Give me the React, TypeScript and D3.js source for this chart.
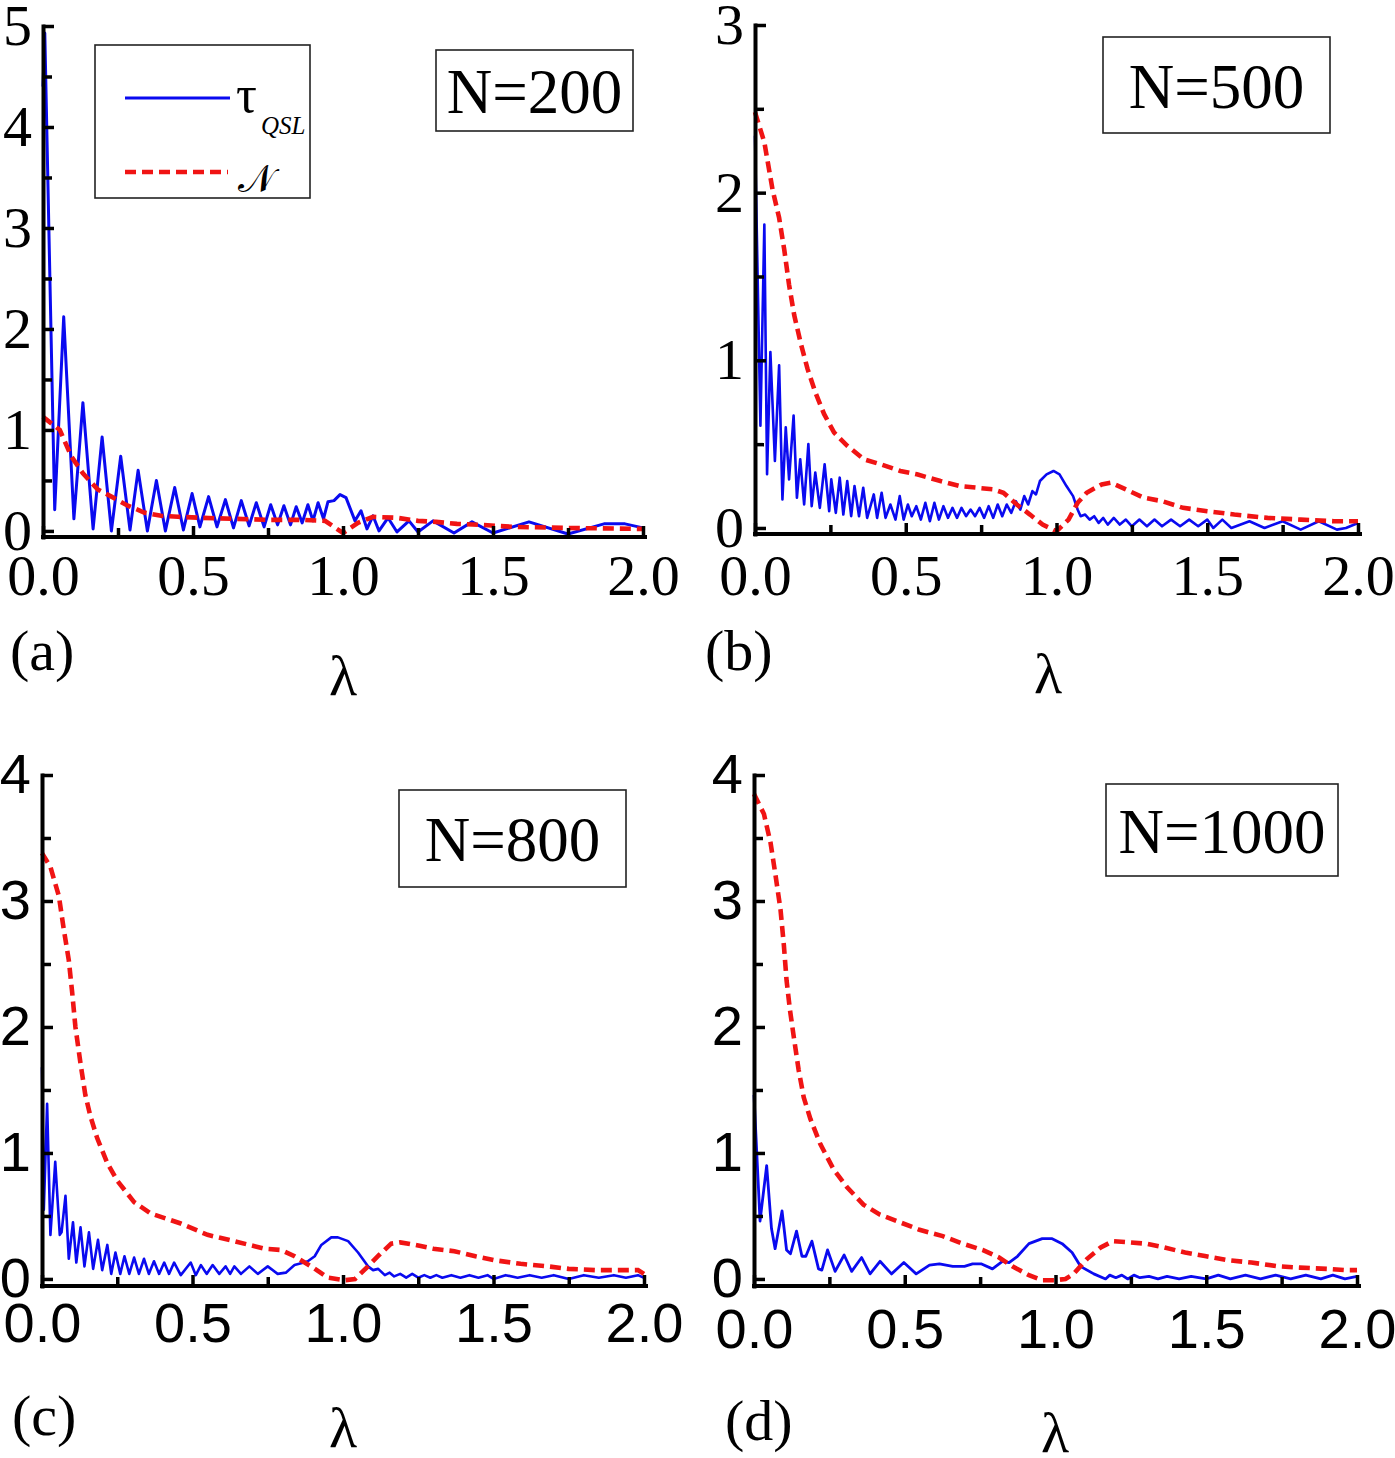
import React, { useEffect, useRef } from 'react';
import * as d3 from 'd3';

// [lambda, value] pairs
const tau200: [number, number][] = [
  [0, 4.4], [0.006, 4.93], [0.039, 0.21], [0.069, 2.12], [0.103, 0.12], [0.133, 1.27], [0.167, 0.02],
  [0.197, 0.93], [0.228, 0.0], [0.259, 0.74], [0.29, 0.01], [0.317, 0.6], [0.348, 0.0], [0.378, 0.5],
  [0.408, 0.0], [0.439, 0.43], [0.468, 0.01], [0.497, 0.37], [0.523, 0.04], [0.552, 0.34], [0.58, 0.04],
  [0.608, 0.31], [0.635, 0.03], [0.661, 0.3], [0.687, 0.05], [0.711, 0.28], [0.737, 0.04], [0.759, 0.26],
  [0.782, 0.06], [0.803, 0.25], [0.825, 0.06], [0.844, 0.24], [0.864, 0.08], [0.883, 0.26], [0.9, 0.1],
  [0.917, 0.28], [0.935, 0.12], [0.95, 0.29], [0.97, 0.3], [0.99, 0.36], [1.01, 0.33], [1.04, 0.1],
  [1.06, 0.2], [1.08, 0.02], [1.1, 0.15], [1.12, 0.0], [1.15, 0.13], [1.18, -0.01], [1.22, 0.1],
  [1.25, -0.01], [1.3, 0.1], [1.37, -0.02], [1.43, 0.09], [1.5, -0.02], [1.62, 0.09], [1.75, -0.03],
  [1.87, 0.07], [1.94, 0.07], [2.0, 0.03],
];
const neg200: [number, number][] = [
  [0, 1.13], [0.056, 1.0], [0.094, 0.74], [0.133, 0.57], [0.183, 0.41], [0.228, 0.34], [0.283, 0.25],
  [0.339, 0.18], [0.394, 0.15], [0.45, 0.14], [0.528, 0.13], [0.639, 0.12], [0.75, 0.11], [0.861, 0.11],
  [0.94, 0.1], [0.97, 0.04], [1.0, -0.02], [1.05, 0.08], [1.1, 0.14], [1.18, 0.13], [1.25, 0.1],
  [1.31, 0.09], [1.38, 0.07], [1.46, 0.06], [1.57, 0.04], [1.74, 0.03], [2.0, 0.02],
];

const tau500: [number, number][] = [
  [0, 2.34], [0.018, 0.61], [0.031, 1.81], [0.04, 0.32], [0.051, 1.05], [0.066, 0.4], [0.08, 0.97],
  [0.091, 0.17], [0.102, 0.6], [0.113, 0.29], [0.128, 0.67], [0.139, 0.18], [0.15, 0.41], [0.163, 0.14],
  [0.177, 0.5], [0.188, 0.13], [0.2, 0.33], [0.215, 0.12], [0.231, 0.38], [0.246, 0.1], [0.253, 0.29],
  [0.268, 0.09], [0.281, 0.3], [0.293, 0.08], [0.306, 0.28], [0.319, 0.07], [0.33, 0.25], [0.345, 0.07],
  [0.359, 0.24], [0.372, 0.06], [0.394, 0.2], [0.405, 0.06], [0.42, 0.21], [0.433, 0.06], [0.449, 0.14],
  [0.466, 0.05], [0.48, 0.19], [0.493, 0.05], [0.507, 0.14], [0.52, 0.07], [0.535, 0.13], [0.55, 0.05],
  [0.565, 0.15], [0.58, 0.04], [0.595, 0.15], [0.61, 0.05], [0.625, 0.13], [0.64, 0.06], [0.655, 0.12],
  [0.67, 0.06], [0.685, 0.12], [0.7, 0.07], [0.715, 0.11], [0.73, 0.07], [0.745, 0.12], [0.76, 0.06],
  [0.775, 0.13], [0.79, 0.06], [0.805, 0.14], [0.82, 0.07], [0.835, 0.14], [0.85, 0.09], [0.865, 0.16],
  [0.88, 0.11], [0.893, 0.19], [0.906, 0.14], [0.92, 0.22], [0.932, 0.2], [0.945, 0.28], [0.967, 0.32],
  [0.99, 0.34], [1.01, 0.32], [1.033, 0.25], [1.055, 0.19], [1.07, 0.11], [1.08, 0.07], [1.095, 0.08],
  [1.11, 0.05], [1.125, 0.07], [1.14, 0.03], [1.155, 0.06], [1.17, 0.02], [1.19, 0.06], [1.21, 0.02],
  [1.23, 0.05], [1.25, 0.01], [1.275, 0.05], [1.3, 0.01], [1.325, 0.05], [1.35, 0.01], [1.38, 0.05],
  [1.41, 0.01], [1.44, 0.05], [1.47, 0.01], [1.5, 0.05], [1.52, 0.0], [1.55, 0.05], [1.58, 0.0],
  [1.64, 0.04], [1.69, 0.0], [1.75, 0.04], [1.81, -0.01], [1.87, 0.04], [1.93, -0.01], [1.96, 0.0],
  [2.0, 0.03],
];
const neg500: [number, number][] = [
  [0, 2.48], [0.031, 2.3], [0.058, 2.02], [0.08, 1.85], [0.097, 1.66], [0.113, 1.45], [0.13, 1.27],
  [0.152, 1.1], [0.174, 0.95], [0.2, 0.81], [0.229, 0.68], [0.262, 0.57], [0.306, 0.49], [0.361, 0.41],
  [0.416, 0.38], [0.482, 0.34], [0.537, 0.32], [0.615, 0.28], [0.68, 0.25], [0.736, 0.24], [0.79, 0.23],
  [0.824, 0.21], [0.868, 0.14], [0.912, 0.08], [0.954, 0.02], [1.0, -0.02], [1.04, 0.05], [1.07, 0.15],
  [1.1, 0.21], [1.15, 0.26], [1.18, 0.27], [1.23, 0.23], [1.29, 0.18], [1.35, 0.16], [1.42, 0.12],
  [1.5, 0.1], [1.59, 0.08], [1.7, 0.06], [1.81, 0.05], [1.92, 0.04], [2.0, 0.04],
];

const tau800: [number, number][] = [
  [0, 1.68], [0.006, 0.55], [0.017, 1.39], [0.028, 0.35], [0.044, 0.93], [0.059, 0.35], [0.065, 0.37],
  [0.078, 0.66], [0.089, 0.16], [0.103, 0.45], [0.114, 0.13], [0.128, 0.41], [0.141, 0.1], [0.156, 0.37],
  [0.17, 0.08], [0.186, 0.31], [0.2, 0.07], [0.217, 0.27], [0.23, 0.04], [0.244, 0.21], [0.26, 0.04],
  [0.274, 0.18], [0.29, 0.04], [0.306, 0.17], [0.322, 0.04], [0.339, 0.16], [0.355, 0.04], [0.372, 0.14],
  [0.389, 0.04], [0.406, 0.13], [0.422, 0.04], [0.439, 0.13], [0.461, 0.03], [0.494, 0.13], [0.511, 0.03],
  [0.528, 0.11], [0.547, 0.04], [0.567, 0.11], [0.589, 0.04], [0.61, 0.1], [0.625, 0.04], [0.639, 0.1],
  [0.661, 0.04], [0.689, 0.1], [0.717, 0.04], [0.75, 0.1], [0.783, 0.04], [0.81, 0.05], [0.839, 0.11],
  [0.87, 0.13], [0.883, 0.14], [0.906, 0.18], [0.928, 0.27], [0.961, 0.33], [0.983, 0.33], [1.017, 0.3],
  [1.05, 0.21], [1.083, 0.1], [1.1, 0.07], [1.117, 0.08], [1.139, 0.03], [1.155, 0.05], [1.17, 0.02],
  [1.19, 0.04], [1.21, 0.01], [1.23, 0.04], [1.25, 0.01], [1.27, 0.03], [1.29, 0.01], [1.31, 0.03],
  [1.33, 0.01], [1.36, 0.03], [1.39, 0.01], [1.42, 0.03], [1.45, 0.01], [1.48, 0.03], [1.5, 0.0],
  [1.54, 0.03], [1.58, 0.01], [1.62, 0.03], [1.66, 0.01], [1.7, 0.03], [1.75, 0.0], [1.8, 0.03],
  [1.85, 0.01], [1.9, 0.03], [1.94, 0.01], [1.98, 0.03], [2.0, 0.01],
];
const neg800: [number, number][] = [
  [0, 3.38], [0.028, 3.27], [0.056, 3.04], [0.072, 2.78], [0.089, 2.53], [0.1, 2.28], [0.111, 2.0],
  [0.128, 1.71], [0.144, 1.46], [0.161, 1.29], [0.183, 1.12], [0.217, 0.92], [0.25, 0.78], [0.306, 0.61],
  [0.361, 0.52], [0.461, 0.44], [0.55, 0.35], [0.639, 0.3], [0.739, 0.24], [0.794, 0.23], [0.839, 0.18],
  [0.894, 0.1], [0.95, 0.01], [1.006, -0.01], [1.04, 0.0], [1.083, 0.1], [1.12, 0.19], [1.16, 0.28],
  [1.19, 0.29], [1.24, 0.27], [1.3, 0.24], [1.37, 0.22], [1.44, 0.18], [1.5, 0.15], [1.59, 0.12],
  [1.68, 0.1], [1.75, 0.08], [1.84, 0.07], [1.92, 0.07], [1.98, 0.07], [2.0, 0.04],
];

const tau1000: [number, number][] = [
  [0, 1.46], [0.02, 0.46], [0.042, 0.9], [0.058, 0.4], [0.07, 0.24], [0.093, 0.54], [0.108, 0.23],
  [0.121, 0.2], [0.141, 0.38], [0.159, 0.18], [0.172, 0.18], [0.192, 0.3], [0.214, 0.08], [0.225, 0.07],
  [0.244, 0.23], [0.269, 0.06], [0.299, 0.19], [0.324, 0.06], [0.357, 0.17], [0.385, 0.04], [0.418, 0.14],
  [0.456, 0.04], [0.497, 0.13], [0.538, 0.04], [0.582, 0.11], [0.615, 0.12], [0.659, 0.1], [0.698, 0.1],
  [0.725, 0.12], [0.753, 0.12], [0.791, 0.08], [0.824, 0.14], [0.846, 0.13], [0.874, 0.18], [0.912, 0.28],
  [0.956, 0.32], [0.989, 0.32], [1.022, 0.28], [1.055, 0.21], [1.083, 0.1], [1.127, 0.04], [1.166, 0.0],
  [1.18, 0.03], [1.2, 0.01], [1.22, 0.03], [1.24, 0.0], [1.26, 0.03], [1.28, 0.01], [1.31, 0.02],
  [1.34, 0.0], [1.37, 0.02], [1.41, 0.0], [1.45, 0.02], [1.5, 0.0], [1.54, 0.03], [1.58, 0.0],
  [1.63, 0.03], [1.68, 0.0], [1.73, 0.03], [1.78, 0.0], [1.83, 0.03], [1.88, 0.0], [1.92, 0.03],
  [1.96, 0.0], [2.0, 0.02],
];
const neg1000: [number, number][] = [
  [0, 3.85], [0.033, 3.69], [0.055, 3.46], [0.071, 3.21], [0.088, 2.93], [0.099, 2.65], [0.108, 2.37],
  [0.119, 2.14], [0.132, 1.92], [0.148, 1.66], [0.165, 1.44], [0.187, 1.27], [0.22, 1.07], [0.264, 0.87],
  [0.308, 0.73], [0.363, 0.59], [0.418, 0.51], [0.484, 0.45], [0.549, 0.39], [0.626, 0.34], [0.692, 0.28],
  [0.758, 0.23], [0.813, 0.17], [0.857, 0.1], [0.912, 0.03], [0.956, -0.01], [1.0, -0.01], [1.033, 0.0],
  [1.06, 0.04], [1.105, 0.16], [1.15, 0.25], [1.19, 0.3], [1.25, 0.29], [1.3, 0.28], [1.36, 0.25],
  [1.43, 0.21], [1.5, 0.18], [1.57, 0.15], [1.65, 0.13], [1.74, 0.1], [1.81, 0.09], [1.9, 0.08],
  [1.96, 0.07], [2.0, 0.07],
];

const xMajor = [0, 0.5, 1.0, 1.5, 2.0];
const xMinor = [0.25, 0.75, 1.25, 1.75];
const sizeLabels = ['N=200', 'N=500', 'N=800', 'N=1000'];
const panelTags = ['(a)', '(b)', '(c)', '(d)'];

const SERIF = '"Liberation Serif", "Times New Roman", serif';
const SANS = '"Liberation Sans", Arial, sans-serif';

const panels = [
  {
    tau: tau200, neg: neg200, yMax: 5, yMin: -0.06, font: SERIF,
    x: [43, 643], y: [537, 26], xEnd: 645, xPad: 17, blueW: 3,
    box: [436, 50, 197, 81], tag: [10, 670], lam: [343, 695],
  },
  {
    tau: tau500, neg: neg500, yMax: 3, yMin: -0.036, font: SERIF,
    x: [755, 1358], y: [534, 25], xEnd: 1360, xPad: 20, blueW: 2.6,
    box: [1103, 37, 227, 96], tag: [705, 670], lam: [1048, 693],
  },
  {
    tau: tau800, neg: neg800, yMax: 4, yMin: -0.056, font: SANS,
    x: [42, 644], y: [1286, 775], xEnd: 646, xPad: 16, blueW: 2.6,
    box: [399, 790, 227, 97], tag: [12, 1435], lam: [343, 1447],
  },
  {
    tau: tau1000, neg: neg1000, yMax: 4, yMin: -0.056, font: SANS,
    x: [754, 1357], y: [1286, 775], xEnd: 1359, xPad: 22, blueW: 2.8,
    box: [1106, 784, 232, 92], tag: [725, 1440], lam: [1055, 1452],
  },
];

const App: React.FC = () => {
  const svgRef = useRef<SVGSVGElement>(null);

  useEffect(() => {
    if (!svgRef.current) return;
    const svg = d3.select(svgRef.current);
    svg.selectAll('*').remove();

    panels.forEach((p, i) => {
      const g = svg.append('g');
      const x = d3.scaleLinear().domain([0, 2]).range(p.x);
      const y = d3.scaleLinear().domain([p.yMin, p.yMax]).range(p.y);
      const y0 = p.y[0];

      const line = d3.line<[number, number]>().x(d => x(d[0])).y(d => y(d[1]));

      // curves
      g.append('path')
        .attr('d', line(p.tau))
        .attr('fill', 'none')
        .attr('stroke', '#0a0af0')
        .attr('stroke-width', p.blueW)
        .attr('stroke-linejoin', 'round');
      g.append('path')
        .attr('d', line(p.neg))
        .attr('fill', 'none')
        .attr('stroke', '#f01414')
        .attr('stroke-width', 4.6)
        .attr('stroke-dasharray', '11,6');

      // axes
      const yMajorVals = d3.range(0, p.yMax + 0.01, 1);
      const yMinorVals = d3.range(0.5, p.yMax, 1);

      const xAxis = g.append('g').attr('transform', `translate(0,${y0})`)
        .call(d3.axisBottom(x).tickValues(xMajor).tickSize(-11).tickSizeOuter(0).tickPadding(p.xPad)
          .tickFormat(d3.format('.1f')));
      g.append('g').attr('transform', `translate(0,${y0})`)
        .call(d3.axisBottom(x).tickValues(xMinor).tickSize(-9).tickSizeOuter(0).tickFormat(() => ''))
        .select('.domain').remove();
      const yAxis = g.append('g').attr('transform', `translate(${p.x[0]},0)`)
        .call(d3.axisLeft(y).tickValues(yMajorVals).tickSize(-11).tickSizeOuter(0).tickPadding(11)
          .tickFormat(d3.format('d')));
      g.append('g').attr('transform', `translate(${p.x[0]},0)`)
        .call(d3.axisLeft(y).tickValues(yMinorVals).tickSize(-9).tickSizeOuter(0).tickFormat(() => ''))
        .select('.domain').remove();

      [xAxis, yAxis].forEach(a => {
        a.attr('font-family', p.font).attr('font-size', p.font === SERIF ? 58 : 56);
        a.selectAll('text').attr('fill', '#000');
      });
      xAxis.select('.domain').attr('d', `M${p.x[0]},0H${p.xEnd}`);
      g.selectAll('.domain').attr('stroke', '#000').attr('stroke-width', 4).attr('stroke-linecap', 'square');
      g.selectAll('.tick line').attr('stroke', '#000').attr('stroke-width', 3.5);

      // N label box
      const [bx, by, bw, bh] = p.box;
      g.append('rect').attr('x', bx).attr('y', by).attr('width', bw).attr('height', bh)
        .attr('fill', 'white').attr('stroke', '#222').attr('stroke-width', 1.6);
      g.append('text')
        .attr('x', bx + bw / 2).attr('y', by + bh / 2).attr('dy', '0.36em')
        .attr('text-anchor', 'middle')
        .attr('font-family', SERIF).attr('font-size', 63)
        .text(sizeLabels[i]);

      g.append('text').attr('x', p.tag[0]).attr('y', p.tag[1])
        .attr('font-family', SERIF).attr('font-size', 58).text(panelTags[i]);
      g.append('text').attr('x', p.lam[0]).attr('y', p.lam[1]).attr('text-anchor', 'middle')
        .attr('font-family', SERIF).attr('font-size', 58).text('λ');
    });

    // legend in panel (a)
    const lg = svg.append('g');
    lg.append('rect').attr('x', 95).attr('y', 45).attr('width', 215).attr('height', 153)
      .attr('fill', 'white').attr('stroke', '#222').attr('stroke-width', 1.6);
    lg.append('line').attr('x1', 125).attr('x2', 230).attr('y1', 98).attr('y2', 98)
      .attr('stroke', '#0a0af0').attr('stroke-width', 3);
    lg.append('line').attr('x1', 125).attr('x2', 228).attr('y1', 172).attr('y2', 172)
      .attr('stroke', '#f01414').attr('stroke-width', 4.6).attr('stroke-dasharray', '11,6');
    lg.append('text').attr('x', 236).attr('y', 112)
      .attr('font-family', SERIF).attr('font-size', 52).text('τ');
    lg.append('text').attr('x', 261).attr('y', 134)
      .attr('font-family', SERIF).attr('font-style', 'italic').attr('font-size', 25).text('QSL');
    lg.append('text').attr('x', 238).attr('y', 192)
      .attr('font-family', '"DejaVu Serif", "DejaVu Sans", serif').attr('font-size', 38).text('𝒩');
  }, []);

  return (
    <svg ref={svgRef} width={1395} height={1458}
      style={{ position: 'absolute', left: 0, top: 0, background: 'white' }} />
  );
};

export default App;
